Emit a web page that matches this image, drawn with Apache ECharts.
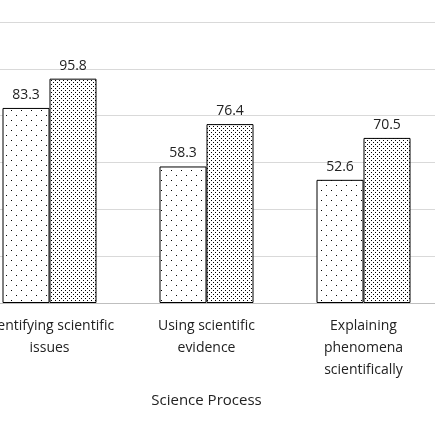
<!DOCTYPE html>
<html><head><meta charset="utf-8">
<script src="https://cdn.jsdelivr.net/npm/echarts@6/dist/echarts.min.js"></script>
<style>html,body{margin:0;padding:0;background:#fff;overflow:hidden;width:435px;height:435px}#c{width:471px;height:435px;margin-left:-29px}</style>
</head><body><div id="c"></div>
<script>
const categories = ['Identifying scientific\nissues', 'Using scientific\nevidence', 'Explaining\nphenomena\nscientifically'];
const seriesA = [83.3, 58.3, 52.6];
const seriesB = [95.8, 76.4, 70.5];

function pattern(step, r) {
  const c = document.createElement('canvas');
  c.width = step * 2; c.height = step * 2;
  const g = c.getContext('2d');
  g.fillStyle = '#fff'; g.fillRect(0, 0, c.width, c.height);
  g.fillStyle = '#000';
  [[0,0],[step,step]].forEach(p => g.fillRect(p[0], p[1], r, r));
  return {image: c, repeat: 'repeat'};
}
const patA = pattern(5, 1);
const patB = pattern(2, 1);

const chart = echarts.init(document.getElementById('c'));
const lbl = {show: true, position: 'top', color: '#222', fontSize: 14, fontFamily: 'Open Sans', distance: 6};
chart.setOption({
  animation: false,
  grid: {left: 0, right: 0, top: 22, bottom: 132, containLabel: false},
  xAxis: {
    type: 'category', data: categories,
    axisLine: {lineStyle: {color: '#bfbfbf'}}, axisTick: {show: false},
    axisLabel: {color: '#222', fontSize: 14, fontFamily: 'Open Sans', lineHeight: 22, margin: 12, interval: 0},
    name: 'Science Process', nameLocation: 'middle', nameGap: 90,
    nameTextStyle: {color: '#222', fontSize: 15, fontFamily: 'Open Sans'}
  },
  yAxis: {
    type: 'value', min: 0, max: 120, interval: 20,
    axisLabel: {show: false}, axisLine: {show: false}, axisTick: {show: false},
    splitLine: {lineStyle: {color: '#d9d9d9'}}
  },
  series: [
    {type: 'bar', data: seriesA, barWidth: 47, barGap: '0%', label: lbl,
     itemStyle: {color: patA, borderColor: '#000', borderWidth: 1}},
    {type: 'bar', data: seriesB, barWidth: 47, label: lbl,
     itemStyle: {color: patB, borderColor: '#000', borderWidth: 1}}
  ]
});
</script></body></html>
